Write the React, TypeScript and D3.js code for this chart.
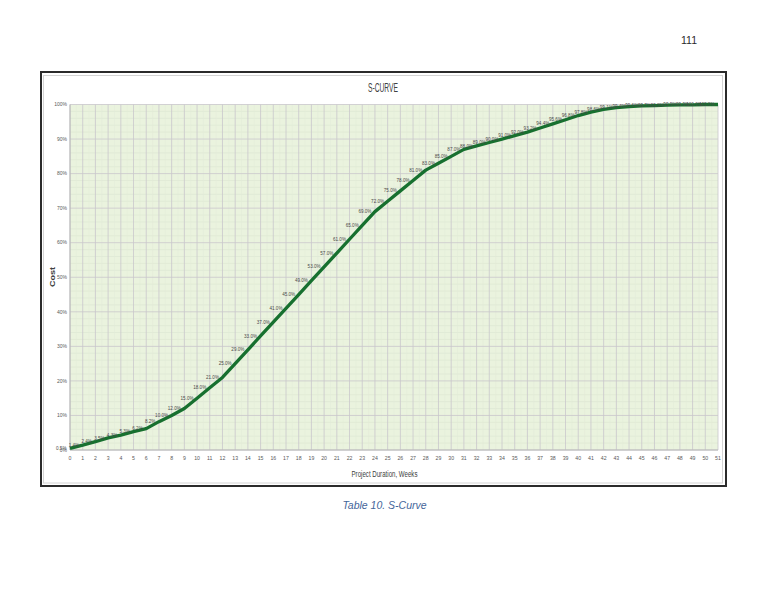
import { useEffect, useRef } from 'react';
import * as d3 from 'd3';

// weeks on the x axis
const WEEKS = [
  0, 1, 2, 3, 4, 5, 6, 7, 8, 9, 10, 11, 12, 13, 14, 15, 16, 17, 18, 19, 20, 21, 22, 23, 24, 25,
  26, 27, 28, 29, 30, 31, 32, 33, 34, 35, 36, 37, 38, 39, 40, 41, 42, 43, 44, 45, 46, 47, 48, 49, 50, 51,
];
// cumulative cost, percent
const COST = [
  0.5, 1.4, 2.4, 3.5, 4.3, 5.3, 6.2, 8.2, 10.0, 12.0, 15.0, 18.0, 21.0, 25.0, 29.0, 33.0, 37.0, 41.0,
  45.0, 49.0, 53.0, 57.0, 61.0, 65.0, 69.0, 72.0, 75.0, 78.0, 81.0, 83.0, 85.0, 87.0, 88.0, 89.0, 90.0,
  91.0, 92.0, 93.2, 94.4, 95.6, 96.8, 97.8, 98.6, 99.1, 99.4, 99.6, 99.7, 99.8, 99.9, 99.9, 100.0, 100.0,
];
const Y_TICKS = [0, 10, 20, 30, 40, 50, 60, 70, 80, 90, 100];
const Y_MINOR = [2, 4, 6, 8, 12, 14, 16, 18, 22, 24, 26, 28, 32, 34, 36, 38, 42, 44, 46, 48, 52, 54, 56, 58,
  62, 64, 66, 68, 72, 74, 76, 78, 82, 84, 86, 88, 92, 94, 96, 98];

const TITLE = 'S-CURVE';
const X_TITLE = 'Project Duration, Weeks';
const Y_TITLE = 'Cost';
const CAPTION = 'Table 10. S-Curve';
const PAGE_NO = '111';

const W = 768;
const H = 594;
const PLOT = { left: 70, right: 718, top: 104.5, bottom: 450 };
const NARROW = "'Liberation Sans Narrow', 'Liberation Sans', Arial, sans-serif";

export default function App() {
  const svgRef = useRef<SVGSVGElement>(null);

  useEffect(() => {
    const svg = d3.select(svgRef.current);
    svg.selectAll('*').remove();

    const x = d3.scaleLinear().domain([0, 51]).range([PLOT.left, PLOT.right]);
    const y = d3.scaleLinear().domain([0, 100]).range([PLOT.bottom, PLOT.top]);

    // page number
    svg.append('text')
      .attr('x', 697).attr('y', 44)
      .attr('text-anchor', 'end')
      .attr('font-family', "'Liberation Sans', sans-serif")
      .attr('font-size', 10.5)
      .attr('fill', '#2a2a2a')
      .text(PAGE_NO);

    // frame
    svg.append('rect')
      .attr('x', 41).attr('y', 72).attr('width', 685).attr('height', 414)
      .attr('fill', '#fff').attr('stroke', '#2b2b2b').attr('stroke-width', 2);
    svg.append('rect')
      .attr('x', 43.5).attr('y', 75.5).attr('width', 679).attr('height', 407.5)
      .attr('fill', 'none').attr('stroke', '#d4d4d4').attr('stroke-width', 1);

    // plot background
    svg.append('rect')
      .attr('x', PLOT.left).attr('y', PLOT.top)
      .attr('width', PLOT.right - PLOT.left).attr('height', PLOT.bottom - PLOT.top)
      .attr('fill', '#eaf3de');

    const grid = svg.append('g');
    grid.selectAll('line.minor')
      .data(Y_MINOR)
      .join('line')
      .attr('x1', PLOT.left).attr('x2', PLOT.right)
      .attr('y1', (d) => y(d)).attr('y2', (d) => y(d))
      .attr('stroke', '#dce5d1').attr('stroke-width', 0.6);
    grid.selectAll('line.vminor')
      .data(WEEKS.slice(0, -1))
      .join('line')
      .attr('x1', (d) => x(d + 0.5)).attr('x2', (d) => x(d + 0.5))
      .attr('y1', PLOT.top).attr('y2', PLOT.bottom)
      .attr('stroke', '#e3ebd9').attr('stroke-width', 0.5);
    grid.selectAll('line.v')
      .data(WEEKS)
      .join('line')
      .attr('x1', (d) => x(d)).attr('x2', (d) => x(d))
      .attr('y1', PLOT.top).attr('y2', PLOT.bottom)
      .attr('stroke', '#c9c7cc').attr('stroke-width', 0.8);
    grid.selectAll('line.h')
      .data(Y_TICKS)
      .join('line')
      .attr('x1', PLOT.left).attr('x2', PLOT.right)
      .attr('y1', (d) => y(d)).attr('y2', (d) => y(d))
      .attr('stroke', '#c9c7cc').attr('stroke-width', 0.8);

    // axis lines
    svg.append('line')
      .attr('x1', PLOT.left).attr('x2', PLOT.left)
      .attr('y1', PLOT.top).attr('y2', PLOT.bottom)
      .attr('stroke', '#b8b8b8');
    svg.append('line')
      .attr('x1', PLOT.left).attr('x2', PLOT.right)
      .attr('y1', PLOT.bottom).attr('y2', PLOT.bottom)
      .attr('stroke', '#b8b8b8');

    // tick labels
    svg.append('g').selectAll('text')
      .data(Y_TICKS)
      .join('text')
      .attr('x', PLOT.left - 3).attr('y', (d) => y(d))
      .attr('dy', '0.35em')
      .attr('text-anchor', 'end')
      .attr('font-family', NARROW).attr('font-size', 5)
      .attr('fill', '#595959')
      .text((d) => d + '%');
    svg.append('g').selectAll('text')
      .data(WEEKS)
      .join('text')
      .attr('x', (d) => x(d)).attr('y', PLOT.bottom + 10)
      .attr('text-anchor', 'middle')
      .attr('font-family', NARROW).attr('font-size', 5.2)
      .attr('fill', '#595959')
      .text((d) => d);

    // s-curve
    const line = d3.line<number>()
      .x((_, i) => x(WEEKS[i]))
      .y((d) => y(d));
    svg.append('path')
      .attr('d', line(COST))
      .attr('fill', 'none')
      .attr('stroke', '#17702f')
      .attr('stroke-width', 3.3)
      .attr('stroke-linejoin', 'round');

    // data labels, to the left of each point
    svg.append('g').selectAll('text')
      .data(COST)
      .join('text')
      .attr('x', (_, i) => x(WEEKS[i]) - 3.5)
      .attr('y', (d) => y(d))
      .attr('dy', '0.35em')
      .attr('text-anchor', 'end')
      .attr('font-family', NARROW).attr('font-size', 4.6)
      .attr('fill', '#4a4a4a')
      .text((d) => d.toFixed(1) + '%');

    // titles
    svg.append('text')
      .attr('x', 383).attr('y', 91.5)
      .attr('text-anchor', 'middle')
      .attr('font-family', NARROW).attr('font-size', 12)
      .attr('textLength', 30).attr('lengthAdjust', 'spacingAndGlyphs')
      .attr('fill', '#404040')
      .text(TITLE);
    svg.append('text')
      .attr('x', 384.5).attr('y', 477)
      .attr('text-anchor', 'middle')
      .attr('font-family', NARROW).attr('font-size', 8.5)
      .attr('textLength', 66).attr('lengthAdjust', 'spacingAndGlyphs')
      .attr('fill', '#404040')
      .text(X_TITLE);
    svg.append('text')
      .attr('transform', 'translate(55,277) rotate(-90)')
      .attr('text-anchor', 'middle')
      .attr('font-family', "'Liberation Sans', sans-serif").attr('font-size', 7.5)
      .attr('font-weight', 'bold')
      .attr('textLength', 20).attr('lengthAdjust', 'spacingAndGlyphs')
      .attr('fill', '#404040')
      .text(Y_TITLE);

    // caption
    svg.append('text')
      .attr('x', 384.5).attr('y', 509)
      .attr('text-anchor', 'middle')
      .attr('font-family', "'Liberation Sans', sans-serif").attr('font-size', 10.5)
      .attr('font-style', 'italic')
      .attr('fill', '#44659a')
      .text(CAPTION);
  }, []);

  return (
    <svg
      ref={svgRef}
      width={W}
      height={H}
      style={{ position: 'absolute', left: 0, top: 0, background: '#fff' }}
    />
  );
}
